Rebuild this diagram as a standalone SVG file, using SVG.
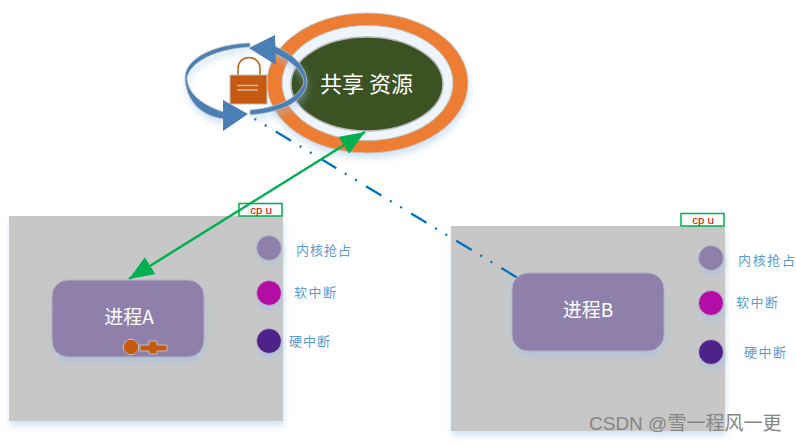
<svg xmlns="http://www.w3.org/2000/svg" width="796" height="444" viewBox="0 0 796 444">
<style>
text{font-family:"Noto Sans CJK SC","Liberation Sans",sans-serif}
.box{fill:#c7c7c7;filter:url(#sh)}
.cpu{fill:#fff;stroke:#00b050;stroke-width:1.5}
.cput{font-family:"Liberation Sans",sans-serif;font-size:11.5px;fill:#d00000;text-anchor:middle}
.proc{fill:#8e7fab;stroke:#b5b0bd;stroke-width:1;filter:url(#sh)}
.pt{fill:#fff;font-size:19px;text-anchor:middle}
.c1{fill:#8e7fab;stroke:#b9b7c4;stroke-width:1;filter:url(#sh)}
.c2{fill:#b40aa6;stroke:#b9b7c4;stroke-width:1;filter:url(#sh)}
.c3{fill:#4d2289;stroke:#b9b7c4;stroke-width:1;filter:url(#sh)}
.lab{fill:#5b9bd5;font-size:13px}
.cres{fill:#4a7fb5;stroke:#c4c4c4;stroke-width:.8;filter:url(#sh)}
.org{fill:#c55a11;stroke:#bdbdbd;stroke-width:1}
</style>
<defs>
<filter id="sh" x="-15%" y="-15%" width="130%" height="135%"><feDropShadow dx="1" dy="5" stdDeviation="3" flood-color="#9dc3e6" flood-opacity=".45"/></filter>
<marker id="g" markerUnits="userSpaceOnUse" markerWidth="26" markerHeight="22" refX="25" refY="10" orient="auto-start-reverse"><path d="M0 0L25 10L0 20Z" fill="#00b050"/></marker>
</defs>
<g id="cpu-a"><rect class="box" x="9" y="216" width="274" height="205"/><rect class="cpu" x="239" y="203.500" width="43" height="12.500"/><text class="cput" x="261" y="214">cp u</text></g>
<g id="cpu-b"><rect class="box" x="451" y="226" width="274" height="205"/><rect class="cpu" x="681" y="213.500" width="43" height="12.500"/><text class="cput" x="703" y="224">cp u</text></g>
<g id="resource">
<ellipse cx="367.500" cy="83" rx="100.500" ry="70" fill="#ed7d31" stroke="#c4c4c4" stroke-width="1" filter="url(#sh)"/>
<ellipse cx="367.500" cy="83" rx="85.500" ry="57.500" fill="#eef4fb" stroke="#c4c4c4" stroke-width="1"/>
<ellipse cx="367" cy="84" rx="76" ry="47" fill="#3b5323" stroke="#b9b9b9" stroke-width="1.500"/>
<text x="320" y="92" fill="#fff" font-size="22" textLength="93" lengthAdjust="spacing">共享 资源</text>
</g>
<g id="connectors">
<line x1="254.500" y1="118.700" x2="517" y2="277.500" stroke="#0070c0" stroke-width="2.300" stroke-dasharray="18 10 2 10 2 10.770" stroke-dashoffset="28"/>
<line x1="365" y1="132" x2="129" y2="279" stroke="#00b050" stroke-width="2.500" marker-start="url(#g)" marker-end="url(#g)"/>
</g>
<g id="lock">
<path d="M238 76V68a11 10.500 0 0 1 22 0V76" fill="none" stroke="#c55a11" stroke-width="1.500"/>
<rect x="230" y="75" width="37" height="29" class="org" stroke-width="1.500"/>
<path d="M237 85.500H258M237 90H258" stroke="#e0b8a0" stroke-width="1.300"/>
</g>
<g id="cycle">
<path class="cres" d="M250 43C215 44 185 58 185 78C186 100 200 116 224 119L224 112C208 107 188 97 187 78C190 62 215 49 250 47Z"/>
<path class="cres" d="M250 115C285 112 306 100 307 82C306 65 292 53 272 45L271 52C285 58 303 68 304 83C298 98 280 107 250 110Z"/>
<path d="M223 100V131L248 114Z" fill="#4a7fb5"/>
<path d="M275 35L276 65L249 48Z" fill="#4a7fb5"/>
</g>
<g id="proc-a"><rect class="proc" x="52" y="280" width="152" height="77" rx="16"/><text class="pt" x="129" y="324">进程A</text>
<g id="key"><path class="org" d="M128 339.500H134L138.500 344V350L134 354.500H128L123.500 350V344Z"/><path class="org" d="M140 345H149V341H157V345H167V351H157V354H149V351H140Z"/></g></g>
<g id="proc-b"><rect class="proc" x="512" y="273" width="152" height="78" rx="16"/><text class="pt" x="588" y="317">进程B</text></g>
<g id="int-a1"><circle class="c1" cx="269" cy="248" r="12.500"/><text class="lab" x="296" y="255" textLength="55">内核抢占</text></g>
<g id="int-a2"><circle class="c2" cx="269" cy="293" r="12.500"/><text class="lab" x="294" y="297" textLength="42">软中断</text></g>
<g id="int-a3"><circle class="c3" cx="269" cy="341" r="12.500"/><text class="lab" x="289" y="346" textLength="41">硬中断</text></g>
<g id="int-b1"><circle class="c1" cx="711" cy="258" r="12.500"/><text class="lab" x="738" y="265" textLength="57">内核抢占</text></g>
<g id="int-b2"><circle class="c2" cx="711" cy="303" r="12.500"/><text class="lab" x="736" y="307" textLength="42">软中断</text></g>
<g id="int-b3"><circle class="c3" cx="711" cy="352" r="12.500"/><text class="lab" x="744" y="357" textLength="42">硬中断</text></g>
<text x="589" y="430" font-size="19" fill="#858585" style="font-family:'Liberation Sans','Noto Sans CJK SC',sans-serif">CSDN @雪一程风一更</text>
</svg>
